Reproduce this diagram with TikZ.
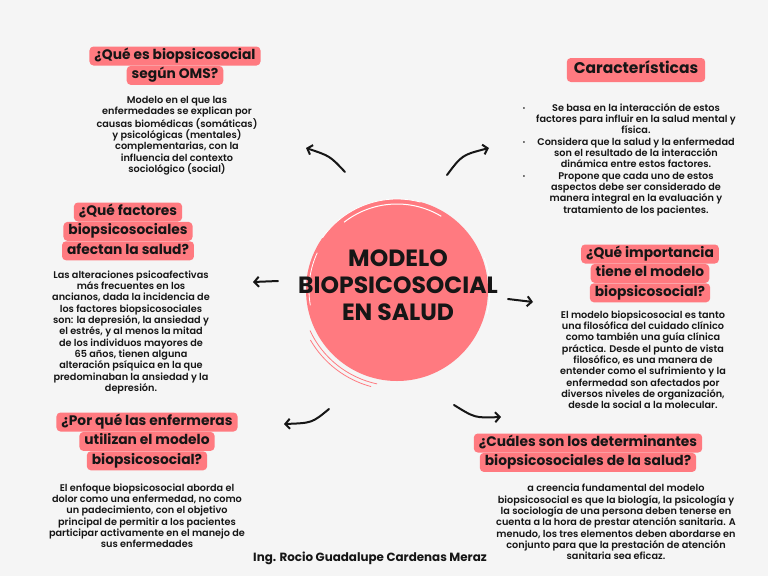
\documentclass[tikz,border=0pt]{standalone}
\usepackage{fontspec}
\setmainfont{Poppins}
\newfontfamily\bodyfont{Poppins SemiBold}
\usetikzlibrary{arrows.meta,positioning}
\definecolor{tagpink}{RGB}{255,122,128}
\definecolor{paper}{RGB}{245,245,245}
\definecolor{ink}{RGB}{22,22,22}
\tikzset{
  >={Straight Barb[length=4.5pt,width=10pt]},
  tag/.style={fill=tagpink, rounded corners=4pt, inner xsep=5pt, inner ysep=0pt,
    text height=10pt, text depth=3.5pt, minimum height=19pt, text=ink,
    font=\bfseries\fontsize{13.8}{15}\selectfont},
  body/.style={align=center, inner sep=0pt, text=ink, font=\bodyfont\fontsize{9.7}{11.3}\selectfont},
  dot/.style={inner sep=0pt, text=ink, font=\bodyfont\fontsize{6}{6}\selectfont},
  sketch/.style={->, line width=2pt, line cap=round, draw=ink},
}

\begin{document}
\begin{tikzpicture}[x=1pt, y=-1pt]
  \fill[paper] (0,0) rectangle (768,576);
  \useasboundingbox (0,0) rectangle (768,576);

  % centre
  \node[circle, fill=tagpink, minimum size=182pt, inner sep=0pt] (core) at (397,290) {};
  \draw[white, line width=1pt] (core.center) ++(232:86) arc[start angle=232, end angle=301, radius=86];
  \draw[white, line width=0.8pt] (core.center) ++(215:91) arc[start angle=215, end angle=285, radius=91];
  \draw[white, line width=0.8pt] (core.center) ++(170:88) arc[start angle=170, end angle=205, radius=88];
  \draw[white, line width=0.8pt] (core.center) ++(340:93) arc[start angle=340, end angle=375, radius=93];
  \draw[tagpink, line width=0.8pt] (core.center) ++(102:96) arc[start angle=102, end angle=155, radius=96];
  \draw[tagpink, line width=0.8pt] (core.center) ++(105:100) arc[start angle=105, end angle=150, radius=100];
  \node[align=center, text=ink, font=\bfseries\fontsize{23.5}{27}\selectfont] (title) at (398,285)
    {MODELO\\BIOPSICOSOCIAL\\EN SALUD};

  % que es
  \node[tag] (t1a) at (175,56) {¿Qué es biopsicosocial};
  \node[tag, below=0pt of t1a] (t1b) {según OMS?};
  \node[body, below=11pt of t1b, xshift=2pt] (d1) {Modelo en el que las\\
    enfermedades se explican por\\causas biomédicas (somáticas)\\
    y psicológicas (mentales)\\complementarias, con la\\
    influencia del contexto\\sociológico (social)};

  % caracteristicas
  \node[tag, minimum height=24pt, inner xsep=7pt, font=\bfseries\fontsize{15.5}{17}\selectfont] (t2) at (636,70) {Características};
  \node[body, below=21pt of t2] (c) {Se basa en la interacción de estos\\
    factores para influir en la salud mental y\\física.\\
    Considera que la salud y la enfermedad\\
    son el resultado de la interacción\\dinámica entre estos factores.\\
    Propone que cada uno de estos\\
    aspectos debe ser considerado de\\manera integral en la evaluación y\\
    tratamiento de los pacientes.};
  \coordinate (bx) at (524,0);
  \foreach \k in {0,3,6}{
    \node[dot, yshift=-6pt-\k*11.3pt] (p\k) at (c.north -| bx) {•};
  }

  % factores
  \node[tag] (t3a) at (128,212) {¿Qué factores};
  \node[tag, below=0pt of t3a] (t3b) {biopsicosociales};
  \node[tag, below=0pt of t3b] (t3c) {afectan la salud?};
  \node[body, below=10pt of t3c, xshift=3pt] (d3) {Las alteraciones psicoafectivas\\
    más frecuentes en los\\ancianos, dada la incidencia de\\
    los factores biopsicosociales\\son: la depresión, la ansiedad y\\
    el estrés, y al menos la mitad\\de los individuos mayores de\\
    65 años, tienen alguna\\alteración psíquica en la que\\
    predominaban la ansiedad y la\\depresión.};

  % importancia
  \node[tag] (t5a) at (650,254) {¿Qué importancia};
  \node[tag, below=0pt of t5a] (t5b) {tiene el modelo};
  \node[tag, below=0pt of t5b] (t5c) {biopsicosocial?};
  \node[body, below=8pt of t5c, xshift=-7pt] (d5) {El modelo biopsicosocial es tanto\\
    una filosófica del cuidado clínico\\como también una guía clínica\\
    práctica. Desde el punto de vista\\filosófico, es una manera de\\
    entender como el sufrimiento y la\\enfermedad son afectados por\\
    diversos niveles de organización,\\desde la social a la molecular.};

  % enfermeras
  \node[tag] (t4a) at (147,422) {¿Por qué las enfermeras};
  \node[tag, below=0pt of t4a] (t4b) {utilizan el modelo};
  \node[tag, below=0pt of t4b] (t4c) {biopsicosocial?};
  \node[body, below=13pt of t4c] (d4) {El enfoque biopsicosocial aborda el\\
    dolor como una enfermedad, no como\\un padecimiento, con el objetivo\\
    principal de permitir a los pacientes\\participar activamente en el manejo de\\
    sus enfermedades};

  % determinantes
  \node[tag] (t6a) at (588,443) {¿Cuáles son los determinantes};
  \node[tag, below=0pt of t6a] (t6b) {biopsicosociales de la salud?};
  \node[body, below=12pt of t6b, xshift=28pt] (d6) {a creencia fundamental del modelo\\
    biopsicosocial es que la biología, la psicología y\\
    la sociología de una persona deben tenerse en\\
    cuenta a la hora de prestar atención sanitaria. A\\
    menudo, los tres elementos deben abordarse en\\
    conjunto para que la prestación de atención\\sanitaria sea eficaz.};

  \node[text=ink, font=\bfseries\fontsize{11.9}{13}\selectfont] (author) at (370,558)
    {Ing. Rocio Guadalupe Cardenas Meraz};

  % arrows
  \coordinate (q1s) at (345,172); \coordinate (q1e) at (306,148);
  \coordinate (q2s) at (447,175); \coordinate (q2e) at (489,148);
  \coordinate (q3s) at (278,281); \coordinate (q3e) at (253,282);
  \coordinate (q4s) at (508,299); \coordinate (q4e) at (533,302);
  \coordinate (q5s) at (329,409); \coordinate (q5e) at (284,424);
  \coordinate (q6s) at (454,405); \coordinate (q6e) at (501,417);
  \draw[sketch] (q1s) .. controls (330,156) .. (q1e);
  \draw[sketch] (q2s) .. controls (462,155) .. (q2e);
  \draw[sketch] (q3s) -- (q3e);
  \draw[sketch] (q4s) -- (q4e);
  \draw[sketch] (q5s) .. controls (312,423) .. (q5e);
  \draw[sketch] (q6s) .. controls (475,418) .. (q6e);
\end{tikzpicture}
\end{document}
